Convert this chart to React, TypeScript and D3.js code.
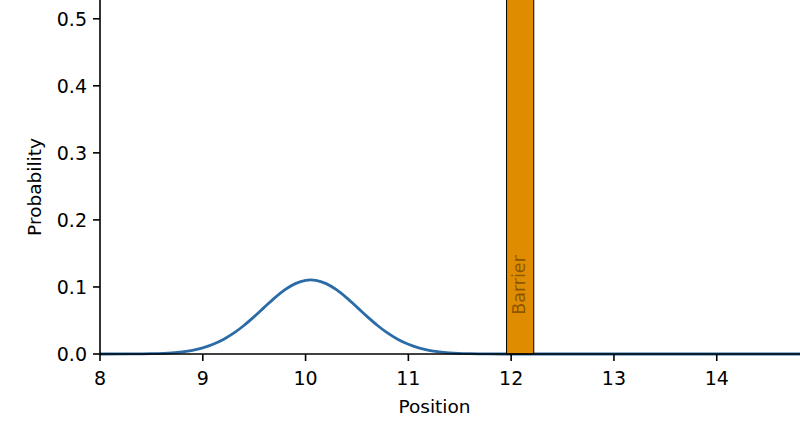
import React from "react";
import * as d3 from "d3";

const positions = [8.0, 8.3, 8.5, 8.7, 8.8, 8.9, 9.0, 9.1, 9.2, 9.3, 9.4, 9.5, 9.6, 9.7, 9.8, 9.9, 10.0, 10.05, 10.1, 10.2, 10.3, 10.4, 10.5, 10.6, 10.7, 10.8, 10.9, 11.0, 11.1, 11.2, 11.3, 11.4, 11.6, 11.8, 12.0, 13.0, 14.0, 14.81];
const probabilities = [0.0, 0.0001, 0.0005, 0.0018, 0.0032, 0.0055, 0.0092, 0.0145, 0.0216, 0.031, 0.0425, 0.0557, 0.0699, 0.0837, 0.0959, 0.105, 0.1099, 0.1105, 0.1099, 0.105, 0.0959, 0.0837, 0.0699, 0.0557, 0.0425, 0.031, 0.0216, 0.0145, 0.0092, 0.0055, 0.0032, 0.0018, 0.0005, 0.0001, 0, 0, 0, 0];

const xTicks = [8, 9, 10, 11, 12, 13, 14];
const yTicks = [0.0, 0.1, 0.2, 0.3, 0.4, 0.5];
const barrierRange = [11.955, 12.22];
const barrierLabel = "Barrier";
const xLabel = "Position";
const yLabel = "Probability";

const W = 800;
const H = 427;
const left = 100;
const bottom = 354;
const font = "DejaVu Sans, sans-serif";

export default function App() {
  const x = d3.scaleLinear().domain([8, 14.81]).range([left, W]);
  const y = d3.scaleLinear().domain([0, 0.528]).range([bottom, 0]);
  const pts = positions.map((p, i) => [p, probabilities[i]] as [number, number]);
  const line = d3
    .line<[number, number]>()
    .x((d) => x(d[0]))
    .y((d) => y(d[1]))
    .curve(d3.curveMonotoneX);

  const bx0 = x(barrierRange[0]);
  const bx1 = x(barrierRange[1]);

  return (
    <svg
      width={W}
      height={H}
      style={{ position: "absolute", left: 0, top: 0, background: "#fff" }}
      fontFamily={font}
    >
      <rect x={0} y={0} width={W} height={H} fill="#fff" />
      <path d={line(pts) || ""} fill="none" stroke="#2b6ca6" strokeWidth={2.8} />
      <rect
        x={bx0}
        y={y(0.528) - 5}
        width={bx1 - bx0}
        height={y(0) - y(0.528) + 5}
        fill="#e08c00"
        stroke="#000"
        strokeWidth={1}
      />
      <text
        transform={`translate(${(bx0 + bx1) / 2 + 5}, ${285}) rotate(-90)`}
        textAnchor="middle"
        fontSize={17.5}
        fill="#000"
        fillOpacity={0.4}
      >
        {barrierLabel}
      </text>
      {/* axes */}
      <line x1={left} x2={W} y1={bottom} y2={bottom} stroke="#000" strokeWidth={1.6} />
      <line x1={left} x2={left} y1={0} y2={bottom} stroke="#000" strokeWidth={1.6} />
      {xTicks.map((t) => (
        <g key={"x" + t}>
          <line x1={x(t)} x2={x(t)} y1={bottom} y2={bottom + 7} stroke="#000" strokeWidth={1.6} />
          <text x={x(t)} y={bottom + 31} textAnchor="middle" fontSize={19} fill="#000">
            {t}
          </text>
        </g>
      ))}
      {yTicks.map((t) => (
        <g key={"y" + t}>
          <line x1={left - 7} x2={left} y1={y(t)} y2={y(t)} stroke="#000" strokeWidth={1.6} />
          <text x={left - 13} y={y(t) + 7} textAnchor="end" fontSize={19} fill="#000">
            {t.toFixed(1)}
          </text>
        </g>
      ))}
      <text x={(left + 771) / 2} y={413} textAnchor="middle" fontSize={18.5} fill="#000" dx={-1}>
        {xLabel}
      </text>
      <text
        transform={`translate(${41}, ${187}) rotate(-90)`}
        textAnchor="middle"
        fontSize={18.5}
        fill="#000"
      >
        {yLabel}
      </text>
    </svg>
  );
}
